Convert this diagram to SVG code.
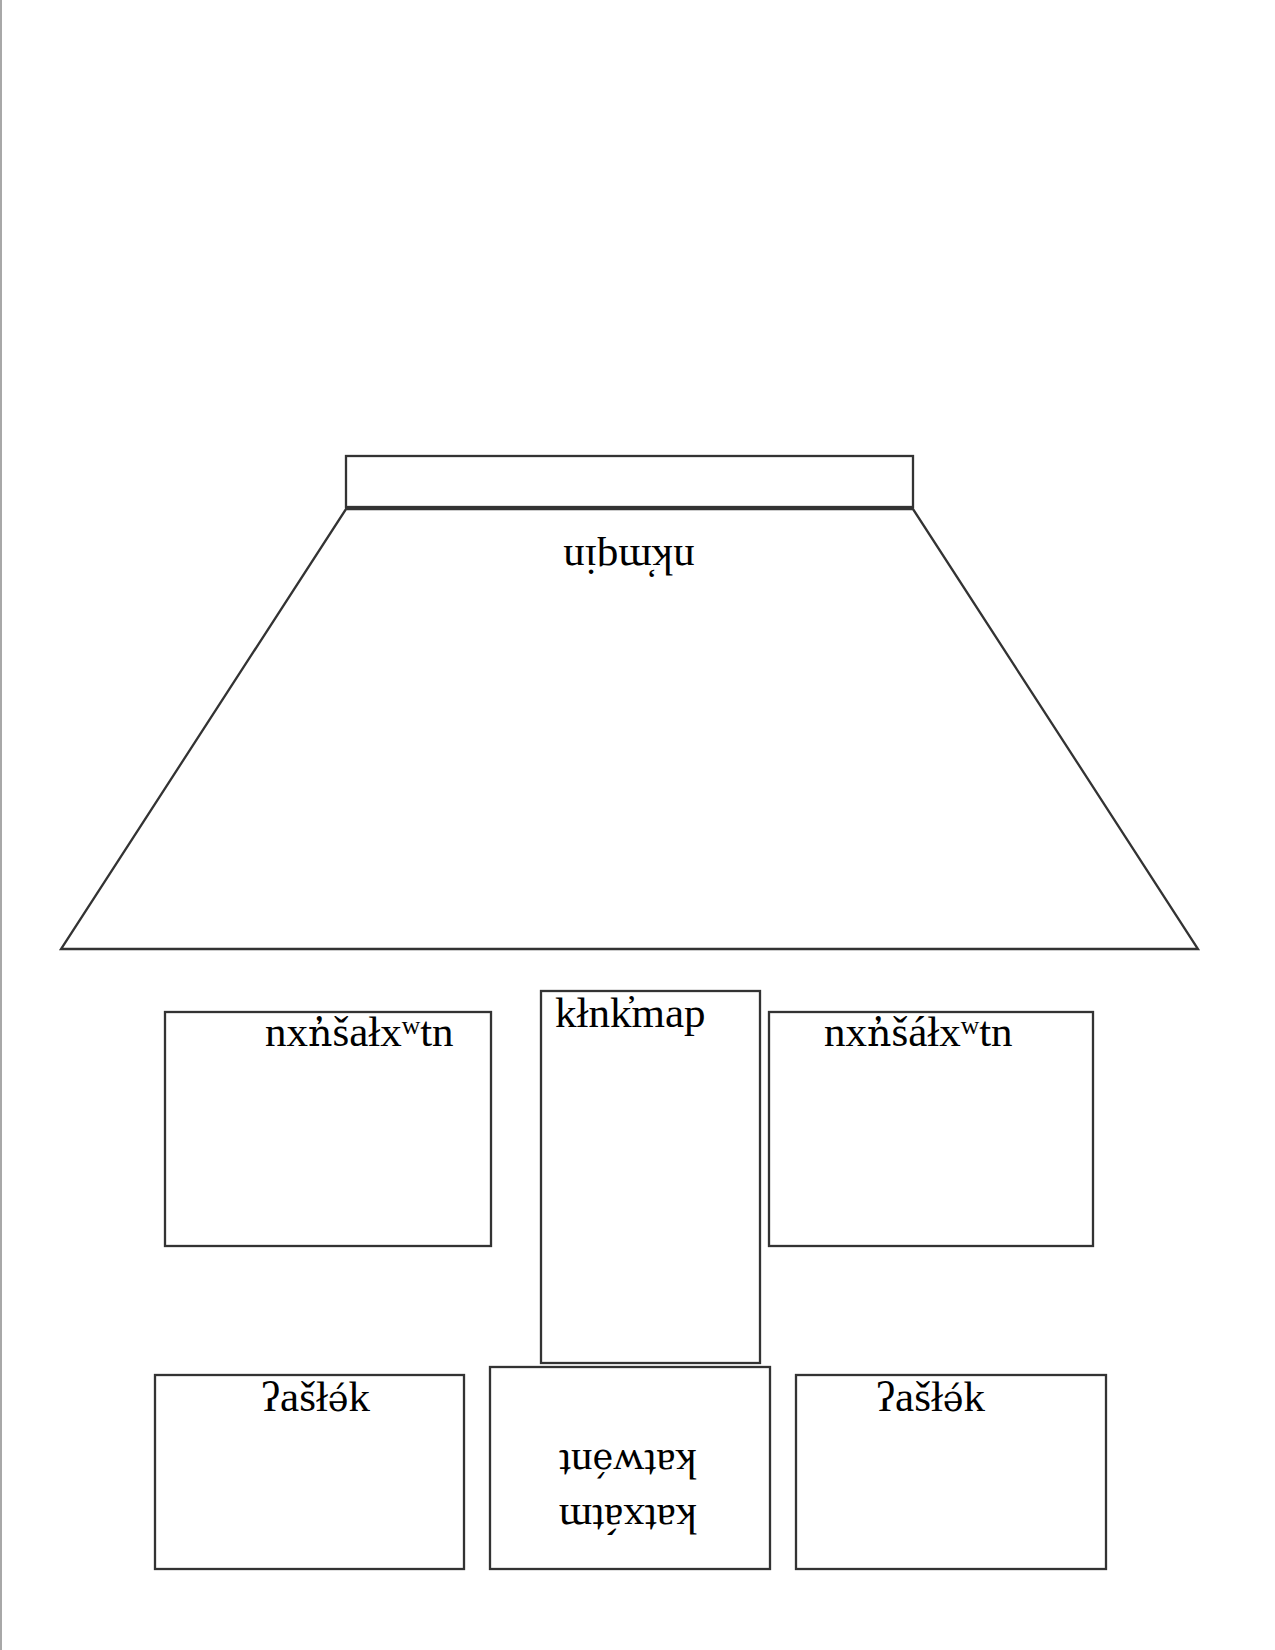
<svg xmlns="http://www.w3.org/2000/svg" width="1275" height="1650" viewBox="0 0 1275 1650">
<style>
.shape{fill:#fff;stroke:#333;stroke-width:2.3}
.lbl{font-family:"Liberation Serif","DejaVu Serif",serif;font-size:43px;fill:#000}
.mk{font-family:"DejaVu Serif","Liberation Serif",serif;font-size:38px}
.mk2{font-family:"DejaVu Serif","Liberation Serif",serif;font-size:35px}
</style>
<rect x="0" y="0" width="1275" height="1650" fill="#fff"/>
<line x1="1" y1="0" x2="1" y2="1650" stroke="#a8a8a8" stroke-width="2"/>
<g id="roof-top">
<rect class="shape" x="346" y="456" width="567" height="51"/>
</g>
<g id="roof">
<polygon class="shape" points="346,509 913,509 1198,949 61,949"/>
<text class="lbl" x="629" y="546" text-anchor="middle" transform="rotate(180 629 546)">nk̓mqin</text>
</g>
<g id="left-window">
<rect class="shape" x="165" y="1012" width="326" height="234"/>
<text class="lbl" x="265" y="1046">nx<tspan class="mk">n̓</tspan>šałxʷtn</text>
</g>
<g id="center-door">
<rect class="shape" x="541" y="991" width="219" height="372"/>
<text class="lbl" x="555" y="1027">kłnk̓map</text>
</g>
<g id="right-window">
<rect class="shape" x="769" y="1012" width="324" height="234"/>
<text class="lbl" x="824" y="1046">nx<tspan class="mk">n̓</tspan>šáłxʷtn</text>
</g>
<g id="bottom-left">
<rect class="shape" x="155" y="1375" width="309" height="194"/>
<text class="lbl" x="261" y="1411">ʔašł<tspan class="mk2">ə́</tspan>k</text>
</g>
<g id="bottom-center">
<rect class="shape" x="490" y="1367" width="280" height="202"/>
<text class="lbl" x="628" y="1450" text-anchor="middle" transform="rotate(180 628 1450)">katw<tspan class="mk2">ə́</tspan>nt</text>
<text class="lbl" x="628" y="1505" text-anchor="middle" transform="rotate(180 628 1505)">katxátm</text>
</g>
<g id="bottom-right">
<rect class="shape" x="796" y="1375" width="310" height="194"/>
<text class="lbl" x="876" y="1411">ʔašł<tspan class="mk2">ə́</tspan>k</text>
</g>
<g id="connectors"></g>
</svg>
